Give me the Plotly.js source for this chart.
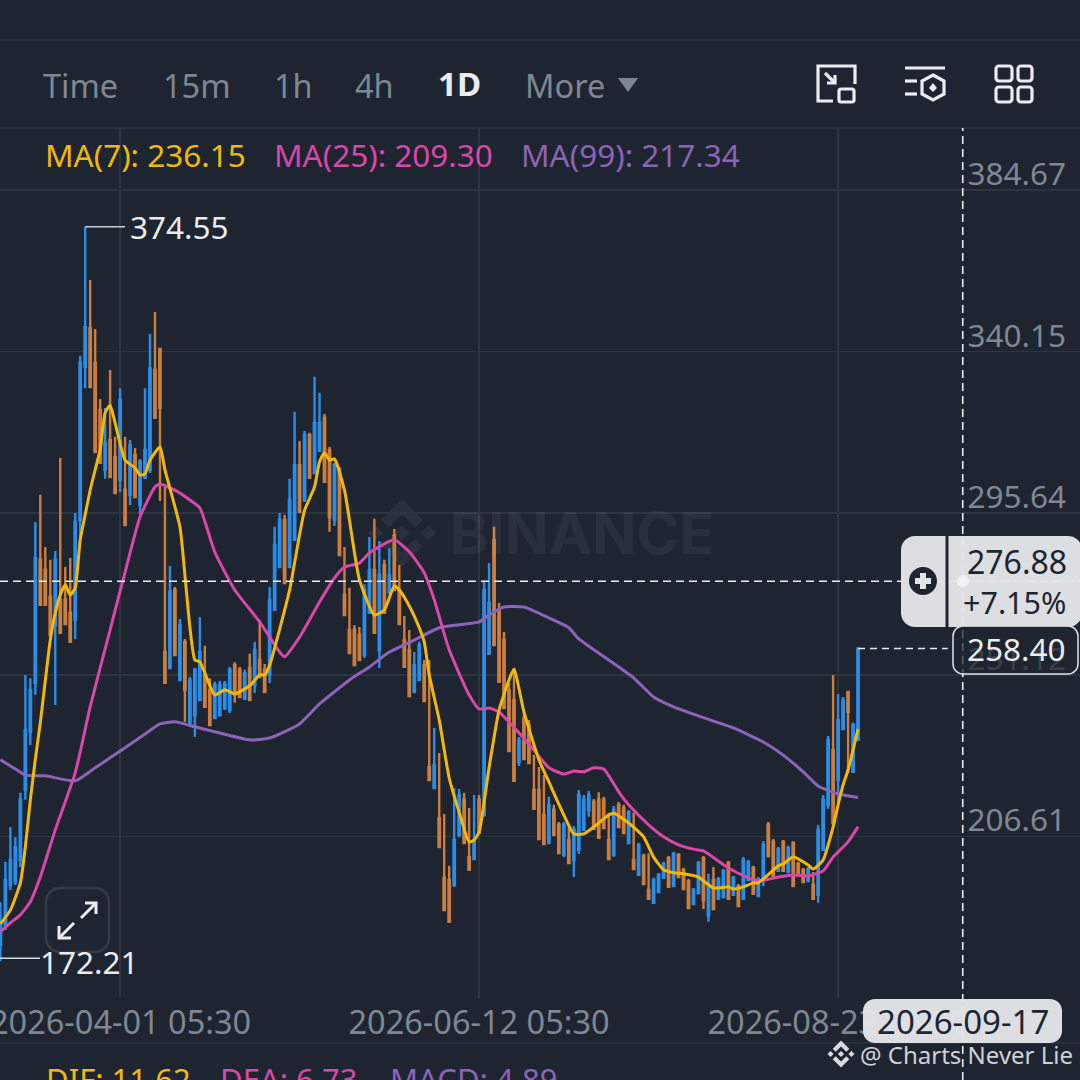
<!DOCTYPE html>
<html><head><meta charset="utf-8">
<script src="https://cdn.plot.ly/plotly-3.0.1.min.js"></script>
<style>html,body{margin:0;padding:0;background:#1e2530;overflow:hidden}#c{width:1080px;height:1080px}</style>
</head><body><div id="c"></div>
<script>
const firstDay = Date.UTC(2026,2,8);
const directions = [
"UUUUUUUUDD","DUDDDUUUDD","DUDDUDUDUU","UDDDUDUDUU","UDDUUUUDDU","DUDDUUUDUU","DUDUUDDUDD","DDDUUDUDUD","DDDUUDDUDD","DUUDDUDUUD",
"DDDDUDDDDD","UDDUDUUUUD","DDDUDDUDUD","DUUUDUDDDU","UDUDUUDUDU","UDUUDDUDUD","DDUDUUUDUU","DUU"].join("");
const highs = [
188.5,199.6,209.2,206.4,218.6,251.1,250.2,293.2,300.7,286.3,
282.8,285.2,310.9,280.8,283.3,295.7,339.0,374.55,359.9,346.4,
327.1,324.6,335.1,316.7,330.1,316.7,315.8,313.6,310.6,330.1,
345.0,351.1,340.9,302.9,281.1,275.3,266.5,261.0,250.5,253.0,
267.0,259.1,250.2,249.2,249.4,249.4,253.3,254.6,253.3,252.5,
256.9,260.2,266.2,254.1,275.3,291.9,295.7,295.2,305.1,323.6,
315.5,318.3,317.8,333.2,328.8,323.0,313.9,309.5,308.4,286.3,
275.1,264.8,264.3,276.1,289.1,294.1,288.0,282.8,286.0,291.3,
281.4,267.3,263.5,257.4,260.2,255.2,255.2,236.5,229.6,212.8,
198.5,219.9,219.7,218.6,214.4,218.0,218.0,276.7,281.9,291.9,
270.9,262.9,248.9,252.5,234.0,240.6,238.7,229.0,225.7,223.5,
217.5,215.3,210.6,210.6,209.2,209.5,219.4,218.0,219.1,216.9,
218.8,217.5,213.1,215.0,216.1,215.3,213.9,213.1,204.8,201.8,
202.0,195.2,196.5,199.6,201.2,202.3,202.0,197.9,194.9,192.4,
199.8,201.2,196.3,198.2,195.4,197.6,199.8,195.7,193.5,200.9,
200.1,198.5,195.4,205.3,210.6,205.9,203.7,205.6,204.0,205.3,
199.6,197.9,198.2,196.8,209.8,218.0,234.3,251.1,245.8,245.0,
246.4,237.9,258.4];
const bodyHigh = [
182.2,194.6,200.1,203.7,216.7,235.9,246.9,283.3,282.8,280.0,
272.6,282.8,271.8,271.8,268.2,293.2,337.1,346.9,346.7,337.1,
324.1,315.0,315.8,311.1,326.9,302.1,314.4,311.7,309.8,313.0,
335.6,335.1,340.9,257.4,274.0,274.5,264.8,260.2,249.7,252.5,
257.4,251.1,246.9,248.3,248.3,248.6,252.5,253.8,252.5,251.6,
253.0,258.0,255.2,252.5,271.8,286.9,293.8,293.8,299.3,308.9,
308.9,317.2,317.2,320.5,320.5,321.9,313.0,308.9,307.6,273.1,
263.5,263.5,262.1,274.5,280.0,280.0,278.6,281.4,278.6,289.6,
274.5,260.7,258.0,253.8,259.3,253.8,225.7,226.3,211.7,195.2,
194.6,205.6,218.0,216.7,200.9,205.6,216.7,274.5,270.9,288.3,
269.0,260.7,246.9,244.2,233.2,239.2,237.3,219.4,219.4,212.5,
215.3,213.9,209.8,209.8,205.6,208.4,218.0,216.7,218.0,216.1,
216.7,216.7,205.6,213.9,215.3,214.4,213.3,200.1,204.3,201.2,
191.9,194.6,196.0,199.0,200.6,201.8,201.5,197.4,194.3,191.9,
199.3,200.6,193.2,194.6,194.9,197.1,199.3,195.2,192.9,200.1,
199.6,197.9,194.9,204.3,209.8,205.1,203.1,205.1,203.4,204.8,
199.0,197.4,197.6,193.2,208.4,216.7,233.2,230.4,238.7,244.2,
246.4,237.3,258.4];
const bodyLow = [
176.7,182.2,193.2,194.0,200.1,219.4,235.4,248.9,270.4,270.4,
262.1,264.8,262.7,265.1,260.2,266.2,293.8,335.9,330.4,312.5,
309.5,307.6,305.6,301.2,304.8,292.4,300.7,300.1,297.9,305.4,
307.6,321.9,324.7,248.9,253.0,256.6,249.7,246.9,237.9,240.0,
244.2,242.3,237.3,239.2,240.0,242.0,241.4,245.6,245.0,244.5,
244.2,248.3,250.5,246.4,251.1,269.0,280.8,276.4,280.8,288.3,
296.0,299.3,305.4,306.7,312.8,304.3,294.6,293.8,284.1,267.6,
257.1,253.8,255.2,256.6,268.2,262.7,258.0,268.2,273.7,274.5,
265.1,253.3,245.3,246.4,249.7,243.9,222.1,219.9,203.7,186.3,
183.1,193.2,207.0,204.8,197.4,200.4,207.5,212.5,256.9,259.3,
249.2,242.0,230.1,221.9,227.1,227.9,226.8,214.2,205.9,204.5,
204.8,207.0,202.0,201.5,199.3,200.1,202.9,208.4,213.9,208.7,
206.2,208.9,200.4,201.5,209.2,207.5,204.8,197.6,196.0,193.5,
189.4,188.3,191.3,195.2,192.7,192.9,195.4,192.1,186.9,188.0,
191.0,189.1,184.9,186.6,189.4,189.9,189.4,190.5,187.4,189.4,
194.6,190.8,190.2,194.6,201.2,195.7,197.1,197.1,196.8,192.9,
196.0,194.0,194.3,189.4,190.5,202.9,215.3,210.3,222.1,236.2,
240.9,224.4,233.2];
const lows = [
172.21,180.8,191.8,193.2,198.2,216.7,231.8,245.6,270.4,270.4,
262.1,242.8,262.7,265.1,260.2,261.0,288.3,330.1,330.4,312.5,
309.5,305.1,305.6,301.2,301.5,292.4,297.9,300.1,295.2,305.4,
306.7,321.9,299.0,248.9,253.0,256.6,249.7,238.1,237.9,234.0,
244.2,242.3,237.3,239.2,240.0,241.4,240.6,243.4,245.0,244.5,
244.2,246.1,250.5,246.4,248.9,269.0,280.8,276.4,280.8,288.3,
296.0,298.7,305.4,306.7,312.8,304.3,290.5,292.1,284.1,267.6,
257.1,253.8,255.2,255.8,268.2,262.7,253.0,268.2,273.7,274.5,
265.1,253.3,245.3,246.4,249.7,243.9,222.1,219.9,203.7,186.3,
183.1,192.7,206.4,204.8,197.4,200.4,207.5,212.0,256.9,259.3,
249.2,242.0,230.1,221.9,226.0,227.9,226.8,214.2,205.9,204.5,
204.8,207.0,202.0,200.9,199.3,195.4,201.8,208.1,212.0,208.7,
206.2,208.9,200.4,200.9,209.2,207.5,204.8,197.6,196.0,193.5,
189.4,188.3,191.3,195.2,192.7,192.9,195.4,192.1,186.9,188.0,
191.0,186.6,183.1,186.6,189.4,189.9,189.4,190.5,187.4,189.4,
194.6,190.8,190.2,192.9,201.2,195.7,197.1,197.1,196.8,192.9,
196.0,194.0,194.3,189.4,188.3,202.9,214.2,210.3,215.8,236.2,
224.1,224.4,233.2];

const ma7Days = [0,2,4,5,6,7,8,10,11,12,13,14,15,16,17,18,19,20,21,22,23,25,27,28,29,30,32,33,36,37,38,39,40,41,43,45,47,50,52,53,54,58,60,61,63,64,65,66,67,69,72,75,77,79,80,82,84,85,86,88,90,92,94,95,96,98,100,102,103,105,108,110,113,115,117,120,122,123,126,129,131,133,135,137,140,143,146,147,149,151,152,156,157,159,162,163,165,167,168,169,170,172];
const ma7 = [182.5,186.3,193.8,203.7,216.6,227.8,237.9,260.7,268.2,273.1,275.9,273.1,275.1,288.3,295.2,302.0,307.6,313.1,323.3,325.4,320.5,310.3,308.1,306.2,306.5,310.3,313.9,307.6,291.9,278.6,264.3,255.2,254.7,251.6,245.6,247.0,245.9,248.1,251.1,251.1,253.8,274.5,289.7,296.5,302.9,309.8,312.3,310.3,310.6,302.0,277.3,267.6,269.0,275.6,274.5,270.1,264.1,260.2,251.1,238.7,222.7,213.3,205.1,205.6,207.8,225.5,241.4,249.7,252.7,240.9,227.7,221.6,212.5,207.3,207.3,210.3,212.5,213.0,210.3,206.5,200.9,197.4,196.6,196.3,195.4,192.4,192.7,192.1,192.7,193.8,193.8,198.5,199.0,200.9,198.7,197.6,200.1,209.2,215.3,220.8,224.9,236.15];
const ma25Days = [0,2,4,6,8,11,15,18,22,25,28,31,32,35,38,40,43,47,52,56,57,60,64,67,69,72,74,79,82,85,87,90,94,96,98,100,104,107,110,113,115,117,119,121,124,126,130,133,136,139,141,146,150,152,156,159,162,165,167,170,172];
const ma25 = [180.3,182.8,185.0,188.6,195.4,208.4,224.1,242.3,263.5,279.4,294.6,302.9,303.7,302.0,299.3,297.1,284.9,274.5,265.7,257.4,256.1,261.5,271.2,277.8,280.8,281.9,284.7,288.3,285.0,279.2,271.8,258.0,245.6,241.7,242.0,240.9,235.1,230.4,225.5,223.8,224.6,224.4,225.5,225.2,218.9,215.3,209.8,206.5,204.3,203.1,202.6,197.9,195.2,194.3,195.4,196.0,195.7,197.1,200.9,205.1,209.30];
const ma99Days = [0,3,5,9,15,19,25,29,32,35,39,44,50,54,60,64,70,74,78,83,88,92,96,98,101,105,110,114,116,122,127,131,135,140,147,153,157,161,164,168,172];
const ma99 = [227.7,225.2,223.5,223.3,221.9,225.5,231.0,234.8,237.6,238.2,236.8,235.1,233.2,233.7,237.6,243.1,249.7,253.3,257.4,260.7,264.1,264.9,265.7,267.6,269.8,269.8,266.8,264.1,261.0,255.2,250.3,245.0,242.3,239.8,236.5,232.6,229.0,224.4,220.5,218.3,217.34];

const priceTicks = [162.09,206.61,251.12,295.64,340.15,384.67];
const dateTicks = ["2026-04-01","2026-06-12","2026-08-23"];
const dateTickLabels = ["2026-04-01 05:30","2026-06-12 05:30","2026-08-23 05:30"];
const lastPrice = 258.40, crossPrice = 276.88, crossPct = "+7.15%", crossDate = "2026-09-17";
const maxIdx = 17, minIdx = 0;

const BLUE="#2a8ee8", ORANGE="#cb7e3d", YEL="#f0b90b", PINK="#d947a8", PUR="#8b63b9";
const BG="#1e2530", GRID="#2e3540", GREY="#7f8793", LIGHT="#e2e4e8", WHITE="#eaecef", WM="#2a313c";

const dates = highs.map((_,i)=>new Date(firstDay+i*86400000).toISOString().slice(0,10));
const opens = highs.map((_,i)=>directions[i]==="U"?bodyLow[i]:bodyHigh[i]);
const closes = highs.map((_,i)=>directions[i]==="U"?bodyHigh[i]:bodyLow[i]);

const px=x=>x/1080, py=y=>1-y/1080;
function pathOf(pts,close){return pts.map((p,i)=>(i?"L":"M")+px(p[0])+","+py(p[1])).join(" ")+(close?" Z":"");}
function rrect(x0,y0,x1,y1,r){
  const k=r*0.45;
  return `M${px(x0+r)},${py(y0)} L${px(x1-r)},${py(y0)} C${px(x1-k)},${py(y0)} ${px(x1)},${py(y0+k)} ${px(x1)},${py(y0+r)} L${px(x1)},${py(y1-r)} C${px(x1)},${py(y1-k)} ${px(x1-k)},${py(y1)} ${px(x1-r)},${py(y1)} L${px(x0+r)},${py(y1)} C${px(x0+k)},${py(y1)} ${px(x0)},${py(y1-k)} ${px(x0)},${py(y1-r)} L${px(x0)},${py(y0+r)} C${px(x0)},${py(y0+k)} ${px(x0+k)},${py(y0)} ${px(x0+r)},${py(y0)} Z`;
}
const shapes=[];
function sPath(path,opt){shapes.push(Object.assign({type:"path",xref:"paper",yref:"paper",path,line:{width:0}},opt));}
function hline(y,color,w){shapes.push({type:"line",xref:"paper",yref:"paper",x0:0,x1:1,y0:py(y),y1:py(y),line:{color,width:w||1.5},layer:"below"});}
function stroke(pts,w,color,close){sPath(pathOf(pts,close),{line:{color:color||WHITE,width:w||3},layer:"above"});}
function logo(cx,cy,size,color,layer){
  const s=size/126.6, o=126.6/2, M=pts=>pts.map(p=>[cx+(p[0]-o)*s,cy+(p[1]-o)*s]);
  [[[38.73,53.2],[63.32,28.62],[87.92,53.22],[102.22,38.91],[63.32,0],[24.43,38.9]],
   [[0,63.31],[14.3,49.01],[28.61,63.31],[14.3,77.61]],
   [[38.73,73.41],[63.32,98],[87.92,73.4],[102.23,87.69],[63.33,126.6],[24.42,87.72]],
   [[98,63.31],[112.3,49.01],[126.61,63.31],[112.31,77.61]],
   [[77.83,63.3],[63.32,48.78],[48.81,63.28],[63.32,77.78]]
  ].forEach(a=>sPath(pathOf(M(a),true),{fillcolor:color,layer}));
}
hline(40,GRID); hline(128,GRID); hline(1043,GRID);
logo(402,533,68,WM,"below");

// top-right icons
stroke([[855,84],[855,66],[818,66],[818,101],[833,101]],3.2);
sPath(rrect(839,89,854,102,2),{line:{color:WHITE,width:3.2},layer:"above"});
stroke([[825,73],[835,83]],3.2); stroke([[835,75],[835,83],[827,83]],3.2);
stroke([[905,68],[945,68]],3.2); stroke([[905,81],[917,81]],3.2); stroke([[905,94],[917,94]],3.2);
stroke([[933,75],[944,81],[944,94],[933,100],[922,94],[922,81]],3.2,WHITE,true);
sPath(pathOf([[933,83],[937,88],[933,92],[929,88]],true),{fillcolor:WHITE,layer:"above"});
[[996,66,1012,81],[1018,66,1032,81],[996,87,1012,102],[1018,87,1032,102]].forEach(r=>
  sPath(rrect(r[0],r[1],r[2],r[3],3),{line:{color:WHITE,width:3.2},layer:"above"}));
// More triangle
sPath(pathOf([[618,78],[638,78],[628,92]],true),{fillcolor:GREY,layer:"above"});
// expand button
sPath(rrect(46,888,109,952,14),{line:{color:"#353c47",width:2.5},layer:"above"});
stroke([[59,938],[74,923]],3); stroke([[59,926],[59,938],[71,938]],3);
stroke([[96,903],[81,918]],3); stroke([[85,903],[96,903],[96,914]],3);

// data-anchored guide lines
shapes.push({type:"line",xref:"x",yref:"y",x0:dates[maxIdx],x1:"2026-04-02",y0:highs[maxIdx],y1:highs[maxIdx],line:{color:"#c9ccd1",width:1.5},layer:"above"});
shapes.push({type:"line",xref:"paper",yref:"y",x0:0,x1:px(40),y0:lows[minIdx]+0.8,y1:lows[minIdx]+0.8,line:{color:"#d8dade",width:1.5},layer:"above"});
shapes.push({type:"line",xref:"x",yref:"y",x0:dates[172],x1:"2026-09-14",y0:lastPrice,y1:lastPrice,line:{color:WHITE,width:1.5,dash:"7px,5px"},layer:"above"});
shapes.push({type:"line",xref:"paper",yref:"y",x0:0,x1:1,y0:crossPrice,y1:crossPrice,line:{color:WHITE,width:1.6,dash:"8px,5px"},layer:"above"});
shapes.push({type:"line",xref:"x",yref:"paper",x0:crossDate,x1:crossDate,y0:0,y1:py(128),line:{color:WHITE,width:1.6,dash:"8px,5px"},layer:"above"});
// price tag boxes
sPath(rrect(901,536,1082,627,14),{fillcolor:"rgba(226,228,232,0.97)",layer:"above"});
stroke([[947,536],[947,627]],3,BG);
sPath(rrect(909,567,937,595,14),{fillcolor:"#1e2530",layer:"above"});
sPath(pathOf([[920,573],[926,573],[926,578],[931,578],[931,584],[926,584],[926,589],[920,589],[920,584],[915,584],[915,578],[920,578]],true),{fillcolor:LIGHT,layer:"above"});
sPath(rrect(953,626,1078,674,10),{fillcolor:"rgba(30,37,48,0.72)",line:{color:"#dfe1e5",width:1.5},layer:"above"});
sPath(rrect(957,575,969,587,6),{fillcolor:"rgba(255,255,255,0.55)",layer:"above"});
sPath(rrect(863,999,1062,1043,12),{fillcolor:"rgba(226,228,232,0.97)",layer:"above"});

const F="'Noto Sans',sans-serif";
const anns=[];
function T(text,x,y,color,size,anchor,bold,extra){anns.push(Object.assign({xref:"paper",yref:"paper",x:px(x),y:py(y),text:bold?"<b>"+text+"</b>":text,showarrow:false,xanchor:anchor||"left",yanchor:"middle",borderpad:0,font:{family:F,size:size||30,color}},extra||{}));}
T(dateTickLabels[0],120,1021,GREY,32.5,"center");
T("Time",42,85,GREY,32.5); T("15m",162,85,GREY,32.5); T("1h",273,85,GREY,32.5); T("4h",354,85,GREY,32.5);
T("1D",437,84,WHITE,33,"left",true); T("More",524,85,GREY,32.5);
T("MA(7): "+ma7[ma7.length-1].toFixed(2),44,155,YEL,31.5);
T("MA(25): "+ma25[ma25.length-1].toFixed(2),273,155,PINK,31.5);
T("MA(99): "+ma99[ma99.length-1].toFixed(2),520,155,PUR,31.5);
T(highs[maxIdx].toFixed(2),129,226.5,WHITE,31.5);
T(lows[minIdx].toFixed(2),39,961,WHITE,31.5);
T("276.88",1016.5,561.5,"#1e2530",32,"center");
T(crossPct,1014.5,601.5,"#1e2530",30.5,"center");
T(lastPrice.toFixed(2),1016.5,648,WHITE,31.5,"center");
T(crossDate,962.5,1021,"#1e2530",33,"center");
T("BINANCE",449,533,"rgba(255,255,255,0.055)",58,"left",true,{font:{family:"Inter,'Liberation Sans',sans-serif",size:58,color:"rgba(255,255,255,0.055)"}});
T("@ Charts Never Lie",859,1054,"#cfd2d7",24);
T("DIF: 11.62",45,1079,YEL,31); T("DEA: 6.73",219,1079,PINK,31); T("MACD: 4.89",389,1079,PUR,31);
logo(841,1054,27,"#d8dade","above");

const ln=(xIdx,y,c)=>({type:"scatter",mode:"lines",x:xIdx.map(i=>dates[i]),y,line:{color:c,width:3,shape:"spline",smoothing:0.5},hoverinfo:"skip"});
const data=[
 {type:"candlestick",x:dates,open:opens,high:highs,low:lows,close:closes,whiskerwidth:0,
  increasing:{line:{color:BLUE,width:2.4},fillcolor:BLUE},
  decreasing:{line:{color:ORANGE,width:2.4},fillcolor:ORANGE},hoverinfo:"skip"},
 ln(ma99Days,ma99,PUR), ln(ma25Days,ma25,PINK), ln(ma7Days,ma7,YEL)
];
const layout={
 width:1080,height:1080,margin:{l:0,r:0,t:0,b:0,pad:0},paper_bgcolor:BG,plot_bgcolor:BG,showlegend:false,boxgap:0.6,
 xaxis:{type:"date",range:["2026-03-07 22:00","2026-10-10 12:24"],rangeslider:{visible:false},domain:[0,1],
   tickmode:"array",tickvals:dateTicks,ticktext:dateTickLabels,showgrid:true,gridcolor:GRID,gridwidth:1.5,zeroline:false,showline:false,ticks:"",
   tickfont:{family:F,size:32.5,color:GREY},tickangle:0,ticklabelstandoff:2,automargin:false,fixedrange:true},
 yaxis:{range:[priceTicks[0],401.76],domain:[py(998),py(128)],side:"right",tickmode:"array",tickvals:priceTicks,ticktext:priceTicks.map(v=>v.toFixed(2)),
   showgrid:true,gridcolor:GRID,gridwidth:1.5,zeroline:false,showline:false,ticks:"",ticklabelposition:"inside",ticklabelstandoff:11,ticklabelshift:-16,
   tickfont:{family:F,size:31.5,color:GREY},automargin:false,fixedrange:true},
 shapes,annotations:anns,hovermode:false,dragmode:false
};
Plotly.newPlot("c",data,layout,{displayModeBar:false,staticPlot:true});
</script></body></html>
